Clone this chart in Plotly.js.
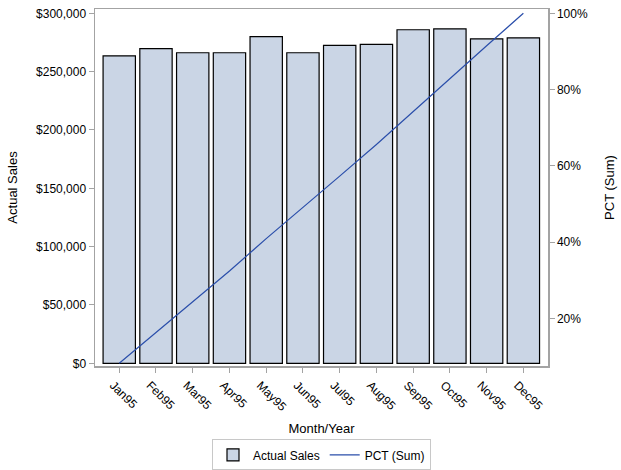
<!DOCTYPE html>
<html>
<head>
<meta charset="utf-8">
<script src="https://cdn.plot.ly/plotly-3.0.1.min.js"></script>
<style>
  html, body { margin: 0; padding: 0; background: #fff; }
  #plot { width: 621px; height: 470px; }
</style>
</head>
<body>
<div id="plot"></div>
<script>
// months on the x axis
var months = ['Jan95', 'Feb95', 'Mar95', 'Apr95', 'May95', 'Jun95',
              'Jul95', 'Aug95', 'Sep95', 'Oct95', 'Nov95', 'Dec95'];

// actual sales per month
var sales = [263600, 269700, 266200, 266200, 280000, 266200,
             272500, 273400, 285900, 286700, 278100, 279000];

// cumulative percent of the year total (PCT (Sum))
var pctSum = [0.082, 0.163, 0.244, 0.324, 0.409, 0.490,
              0.573, 0.656, 0.743, 0.830, 0.915, 1.000];

var pctTicks = [0.2, 0.4, 0.6, 0.8, 1.0];

var gridGrey = '#a3a3a3';
var font = {family: 'Liberation Sans, Arial, sans-serif', size: 12, color: '#000'};

var bars = {
    x: months,
    y: sales,
    name: 'Actual Sales',
    type: 'bar',
    width: 0.88,
    marker: {color: '#cad5e5', line: {color: '#000', width: 1.2}},
    hoverinfo: 'x+y'
};

var line = {
    x: months,
    y: pctSum,
    name: 'PCT (Sum)',
    type: 'scatter',
    mode: 'lines',
    yaxis: 'y2',
    line: {color: '#2a4eaa', width: 1.2}
};

var layout = {
    width: 621,
    height: 470,
    margin: {l: 95, r: 73, t: 9, b: 104, autoexpand: false},
    paper_bgcolor: '#fff',
    plot_bgcolor: '#fff',
    font: font,
    showlegend: true,
    legend: {
        orientation: 'h',
        x: 0.5, xanchor: 'center',
        y: -0.249, yanchor: 'middle',
        bordercolor: '#c8c8c8', borderwidth: 1,
        font: {family: font.family, size: 12, color: '#000'},
        traceorder: 'normal'
    },
    xaxis: {
        type: 'category',
        automargin: false,
        range: [-0.66, 11.67],
        tickangle: 45,
        ticklabelshift: -6,
        ticklabelstandoff: 1,
        ticks: 'outside', ticklen: 5, tickcolor: gridGrey,
        showline: true, linecolor: gridGrey, linewidth: 1.5, mirror: true,
        showgrid: false, zeroline: false,
        tickfont: {size: 12},
        title: {text: 'Month/Year', font: {size: 13}, standoff: 11}
    },
    yaxis: {
        automargin: false,
        range: [-2300, 303700],
        tickvals: [0, 50000, 100000, 150000, 200000, 250000, 300000],
        tickformat: '$,.0f',
        ticks: 'outside', ticklen: 5, tickcolor: gridGrey,
        showline: true, linecolor: gridGrey, linewidth: 1.5,
        showgrid: false, zeroline: false,
        tickfont: {size: 12},
        title: {text: 'Actual Sales', font: {size: 13}, standoff: 15}
    },
    yaxis2: {
        overlaying: 'y',
        side: 'right',
        automargin: false,
        range: [0.0749, 1.0113],
        tickvals: pctTicks,
        tickformat: '.0%',
        ticks: 'outside', ticklen: 5, tickcolor: gridGrey,
        showline: true, linecolor: gridGrey, linewidth: 1.5,
        showgrid: false, zeroline: false,
        tickfont: {size: 12},
        title: {text: 'PCT (Sum)', font: {size: 13}, standoff: 18}
    }
};

Plotly.newPlot('plot', [bars, line], layout, {displayModeBar: false, staticPlot: true});
</script>
</body>
</html>
